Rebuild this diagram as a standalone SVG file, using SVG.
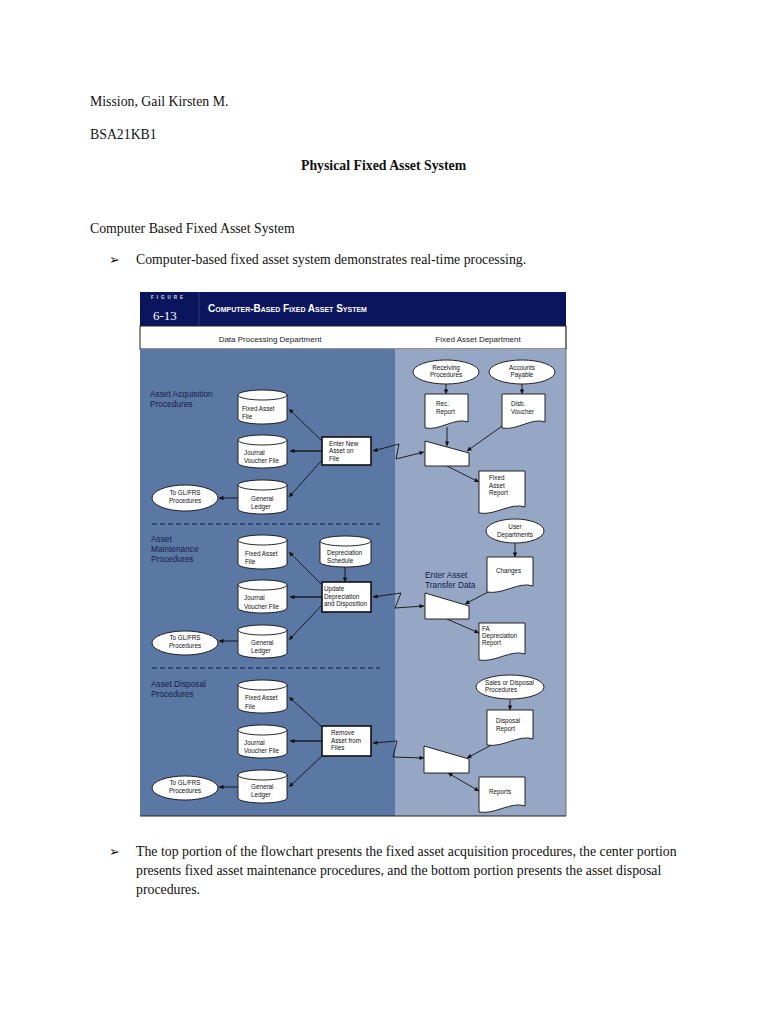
<svg xmlns="http://www.w3.org/2000/svg" width="768" height="1024" viewBox="0 0 768 1024">
<defs>
<marker id="ah" viewBox="0 0 10 10" refX="10" refY="5" markerWidth="5" markerHeight="4.5" markerUnits="userSpaceOnUse" orient="auto"><path d="M0,0 L10,5 L0,10 z" fill="#111"/></marker>
<marker id="as" viewBox="0 0 10 10" refX="0" refY="5" markerWidth="5" markerHeight="4.5" markerUnits="userSpaceOnUse" orient="auto"><path d="M10,0 L0,5 L10,10 z" fill="#111"/></marker>
</defs>
<style>
.pg{font-family:"Liberation Serif","Times New Roman",serif;font-size:13.8px;fill:#111}
.bl{font-family:"DejaVu Sans",sans-serif;font-size:13px;fill:#111}
.nt{font-family:"Liberation Sans",Arial,sans-serif;font-size:6.3px;fill:#111}
.ntm{font-family:"Liberation Sans",Arial,sans-serif;font-size:6.3px;fill:#111;text-anchor:middle}
.sl{font-family:"Liberation Sans",Arial,sans-serif;font-size:8.3px;fill:#13204a}
.dp{font-family:"Liberation Sans",Arial,sans-serif;font-size:8px;fill:#222;text-anchor:middle}
.sh{fill:#fff;stroke:#111;stroke-width:0.9}
.bx{fill:#fff;stroke:#111;stroke-width:1.6}
.ln{fill:none;stroke:#111;stroke-width:0.9}
.dash{stroke:#14214d;stroke-width:1;stroke-dasharray:5 3}
</style>

<!-- page text -->
<text class="pg" x="90" y="106">Mission, Gail Kirsten M.</text>
<text class="pg" x="90" y="139">BSA21KB1</text>
<text class="pg" x="301" y="170" font-weight="bold">Physical Fixed Asset System</text>
<text class="pg" x="90" y="233">Computer Based Fixed Asset System</text>
<text class="bl" x="109" y="264">➢</text>
<text class="pg" x="136" y="264">Computer-based fixed asset system demonstrates real-time processing.</text>
<text class="bl" x="109" y="856">➢</text>
<text class="pg" x="136" y="856">The top portion of the flowchart presents the fixed asset acquisition procedures, the center portion</text>
<text class="pg" x="136" y="875">presents fixed asset maintenance procedures, and the bottom portion presents the asset disposal</text>
<text class="pg" x="136" y="894">procedures.</text>

<!-- figure frame -->
<g id="figure-frame">
<rect x="140" y="292" width="426" height="34" fill="#0b155e"/>
<line x1="199" y1="292" x2="199" y2="326" stroke="#2c3a7a" stroke-width="1"/>
<text x="151" y="299" font-family="Liberation Sans,Arial,sans-serif" font-size="4.5" font-weight="bold" fill="#dfe3f0" letter-spacing="3">FIGURE</text>
<text x="153" y="320" font-family="Liberation Serif,serif" font-size="13" fill="#fff">6-13</text>
<text x="208" y="312" font-family="Liberation Sans,Arial,sans-serif" font-size="10" font-weight="bold" fill="#fff" font-variant="small-caps">Computer-Based Fixed Asset System</text>
<rect x="140" y="326" width="426" height="23" fill="#fff" stroke="#222" stroke-width="1"/>
<text class="dp" x="270" y="342">Data Processing Department</text>
<text class="dp" x="478" y="342">Fixed Asset Department</text>
<rect x="140" y="349" width="255" height="467" fill="#5b77a3"/>
<rect x="395" y="349" width="171" height="467" fill="#95a7c5"/>
<line x1="140" y1="816" x2="566" y2="816" stroke="#222" stroke-width="1"/>
<line x1="566" y1="326" x2="566" y2="816" stroke="#555" stroke-width="0.8"/>
<line class="dash" x1="152" y1="524" x2="380" y2="524"/>
<line class="dash" x1="152" y1="668" x2="380" y2="668"/>
<text class="sl" x="150" y="397">Asset Acquisition</text>
<text class="sl" x="150" y="407">Procedures</text>
<text class="sl" x="151" y="542">Asset</text>
<text class="sl" x="151" y="552">Maintenance</text>
<text class="sl" x="151" y="562">Procedures</text>
<text class="sl" x="151" y="687">Asset Disposal</text>
<text class="sl" x="151" y="697">Procedures</text>
<text class="sl" x="425" y="578">Enter Asset</text>
<text class="sl" x="425" y="588">Transfer Data</text>
</g>

<!-- connectors -->
<g id="connectors" class="ln">
<!-- section 1 -->
<line x1="323" y1="442" x2="289" y2="409" marker-end="url(#ah)"/>
<line x1="322" y1="451" x2="290" y2="451" stroke-width="1.3" marker-end="url(#ah)"/>
<line x1="322" y1="460" x2="289" y2="497" marker-end="url(#ah)"/>
<line x1="238" y1="498" x2="219" y2="498" marker-end="url(#ah)"/>
<polyline points="373,451 399,444 396,459 424,452" marker-start="url(#as)" marker-end="url(#ah)"/>
<line x1="446" y1="384" x2="446" y2="394" marker-end="url(#ah)"/>
<line x1="522" y1="384" x2="522" y2="394" marker-end="url(#ah)"/>
<line x1="447" y1="427" x2="447" y2="446" marker-end="url(#ah)"/>
<line x1="505" y1="424" x2="467" y2="451" marker-end="url(#ah)"/>
<line x1="447" y1="466" x2="479" y2="482" marker-end="url(#ah)"/>
<!-- section 2 -->
<line x1="345" y1="566" x2="345" y2="582" marker-end="url(#ah)"/>
<line x1="322" y1="585" x2="289" y2="552" marker-end="url(#ah)"/>
<line x1="322" y1="597" x2="290" y2="597" stroke-width="1.3" marker-end="url(#ah)"/>
<line x1="321" y1="606" x2="289" y2="640" marker-end="url(#ah)"/>
<line x1="238" y1="641" x2="219" y2="641" marker-end="url(#ah)"/>
<polyline points="373,597 401,593 395,608 424,606" marker-start="url(#as)" marker-end="url(#ah)"/>
<line x1="515" y1="543" x2="515" y2="557" marker-end="url(#ah)"/>
<line x1="496" y1="588" x2="465" y2="604" marker-end="url(#ah)"/>
<line x1="447" y1="619" x2="479" y2="633" marker-end="url(#ah)"/>
<!-- section 3 -->
<line x1="322" y1="727" x2="289" y2="697" marker-end="url(#ah)"/>
<line x1="322" y1="741" x2="290" y2="741" stroke-width="1.3" marker-end="url(#ah)"/>
<line x1="322" y1="756" x2="289" y2="787" marker-end="url(#ah)"/>
<line x1="238" y1="787" x2="219" y2="787" marker-end="url(#ah)"/>
<polyline points="373,743 397,741 393,757 424,758" marker-start="url(#as)" marker-end="url(#ah)"/>
<line x1="510" y1="700" x2="510" y2="710" marker-end="url(#ah)"/>
<line x1="497" y1="742" x2="467" y2="758" marker-end="url(#ah)"/>
<line x1="448" y1="773" x2="479" y2="791" marker-start="url(#as)" marker-end="url(#ah)"/>
</g>

<!-- Section 1 nodes -->
<g id="fa-file-1"><path class="sh" d="M238,395 V419 A24.5,5 0 0 0 287,419 V395 Z"/><ellipse class="sh" cx="262.5" cy="395" rx="24.5" ry="5"/><text class="nt" x="242" y="411">Fixed Asset</text><text class="nt" x="242" y="419">File</text></g>
<g id="jv-file-1"><path class="sh" d="M238,440 V463 A24.5,5 0 0 0 287,463 V440 Z"/><ellipse class="sh" cx="262.5" cy="440" rx="24.5" ry="5"/><text class="nt" x="244" y="455">Journal</text><text class="nt" x="244" y="463">Voucher File</text></g>
<g id="gl-1"><path class="sh" d="M238,485 V509 A24.5,5 0 0 0 287,509 V485 Z"/><ellipse class="sh" cx="262.5" cy="485" rx="24.5" ry="5"/><text class="nt" x="251" y="501">General</text><text class="nt" x="251" y="509">Ledger</text></g>
<g id="glfrs-1"><ellipse class="sh" cx="185" cy="498" rx="33" ry="13"/><text class="ntm" x="185" y="495">To GL/FRS</text><text class="ntm" x="185" y="503">Procedures</text></g>
<g id="enter-new-asset"><rect class="bx" x="322" y="437" width="49" height="28"/><text class="nt" x="329" y="446">Enter New</text><text class="nt" x="329" y="453">Asset on</text><text class="nt" x="329" y="460.5">File</text></g>
<g id="receiving"><ellipse class="sh" cx="446" cy="372" rx="33" ry="12"/><text class="ntm" x="446" y="369.5">Receiving</text><text class="ntm" x="446" y="376.5">Procedures</text></g>
<g id="accounts-payable"><ellipse class="sh" cx="522" cy="372" rx="33" ry="12"/><text class="ntm" x="522" y="369.5">Accounts</text><text class="ntm" x="522" y="376.5">Payable</text></g>
<g id="rec-report"><path class="sh" d="M425,394 H468 V422 C455,417 440,431 425,428 Z"/><text class="nt" x="436" y="406">Rec.</text><text class="nt" x="436" y="414">Report</text></g>
<g id="disb-voucher"><path class="sh" d="M502,394 H545 V422 C532,417 517,431 502,428 Z"/><text class="nt" x="511" y="406">Disb.</text><text class="nt" x="511" y="414">Voucher</text></g>
<g id="input-1"><polygon class="sh" points="425,441 469,453 469,466 425,466"/></g>
<g id="fa-report"><path class="sh" d="M479,471 H525 V507 C511,502 495,516 479,513 Z"/><text class="nt" x="489" y="480">Fixed</text><text class="nt" x="489" y="487.5">Asset</text><text class="nt" x="489" y="495">Report</text></g>

<!-- Section 2 nodes -->
<g id="fa-file-2"><path class="sh" d="M238,540 V564 A24.5,5 0 0 0 287,564 V540 Z"/><ellipse class="sh" cx="262.5" cy="540" rx="24.5" ry="5"/><text class="nt" x="245" y="556">Fixed Asset</text><text class="nt" x="245" y="564">File</text></g>
<g id="dep-schedule"><path class="sh" d="M320,541 V562 A25.5,5 0 0 0 371,562 V541 Z"/><ellipse class="sh" cx="345.5" cy="541" rx="25.5" ry="5"/><text class="nt" x="327" y="555">Depreciation</text><text class="nt" x="327" y="563">Schedule</text></g>
<g id="jv-file-2"><path class="sh" d="M238,585 V608 A24.5,5 0 0 0 287,608 V585 Z"/><ellipse class="sh" cx="262.5" cy="585" rx="24.5" ry="5"/><text class="nt" x="244" y="600">Journal</text><text class="nt" x="244" y="608.5">Voucher File</text></g>
<g id="gl-2"><path class="sh" d="M238,630 V653 A24.5,5 0 0 0 287,653 V630 Z"/><ellipse class="sh" cx="262.5" cy="630" rx="24.5" ry="5"/><text class="nt" x="251" y="645">General</text><text class="nt" x="251" y="653">Ledger</text></g>
<g id="glfrs-2"><ellipse class="sh" cx="185" cy="643" rx="33" ry="12"/><text class="ntm" x="185" y="640">To GL/FRS</text><text class="ntm" x="185" y="648">Procedures</text></g>
<g id="update-dep"><rect class="bx" x="322" y="582" width="49" height="30"/><text class="nt" x="324" y="591">Update</text><text class="nt" x="324" y="598.5">Depreciation</text><text class="nt" x="324" y="606">and Disposition</text></g>
<g id="user-departments"><ellipse class="sh" cx="515" cy="531" rx="29" ry="12"/><text class="ntm" x="515" y="529">User</text><text class="ntm" x="515" y="536.5">Departments</text></g>
<g id="changes"><path class="sh" d="M487,557 H533 V586 C519,581 503,595 487,592 Z"/><text class="nt" x="496" y="573">Changes</text></g>
<g id="input-2"><polygon class="sh" points="425,593 469,606 469,619 425,619"/></g>
<g id="fa-dep-report"><path class="sh" d="M479,623 H525 V654 C511,649 495,663 479,660 Z"/><text class="nt" x="482" y="631">FA</text><text class="nt" x="482" y="638">Depreciation</text><text class="nt" x="482" y="645">Report</text></g>

<!-- Section 3 nodes -->
<g id="fa-file-3"><path class="sh" d="M238,685 V708 A24.5,5 0 0 0 287,708 V685 Z"/><ellipse class="sh" cx="262.5" cy="685" rx="24.5" ry="5"/><text class="nt" x="245" y="700">Fixed Asset</text><text class="nt" x="245" y="708.5">File</text></g>
<g id="jv-file-3"><path class="sh" d="M238,730 V753 A24.5,5 0 0 0 287,753 V730 Z"/><ellipse class="sh" cx="262.5" cy="730" rx="24.5" ry="5"/><text class="nt" x="244" y="745">Journal</text><text class="nt" x="244" y="753">Voucher File</text></g>
<g id="gl-3"><path class="sh" d="M238,775 V798 A24.5,5 0 0 0 287,798 V775 Z"/><ellipse class="sh" cx="262.5" cy="775" rx="24.5" ry="5"/><text class="nt" x="251" y="789">General</text><text class="nt" x="251" y="797">Ledger</text></g>
<g id="glfrs-3"><ellipse class="sh" cx="185" cy="788" rx="33" ry="12"/><text class="ntm" x="185" y="785">To GL/FRS</text><text class="ntm" x="185" y="793">Procedures</text></g>
<g id="remove-asset"><rect class="bx" x="322" y="726" width="49" height="30"/><text class="nt" x="331" y="735">Remove</text><text class="nt" x="331" y="742.5">Asset from</text><text class="nt" x="331" y="750">Files</text></g>
<g id="sales-disposal"><ellipse class="sh" cx="510" cy="687" rx="34" ry="12"/><text class="nt" x="485" y="685">Sales or Disposal</text><text class="nt" x="485" y="692">Procedures</text></g>
<g id="disposal-report"><path class="sh" d="M487,710 H533 V739 C519,734 503,748 487,745 Z"/><text class="nt" x="496" y="723">Disposal</text><text class="nt" x="496" y="730.5">Report</text></g>
<g id="input-3"><polygon class="sh" points="424,746 469,759 469,773 424,773"/></g>
<g id="reports"><path class="sh" d="M479,777 H525 V806 C511,801 495,815 479,812 Z"/><text class="nt" x="489" y="794">Reports</text></g>
</svg>
